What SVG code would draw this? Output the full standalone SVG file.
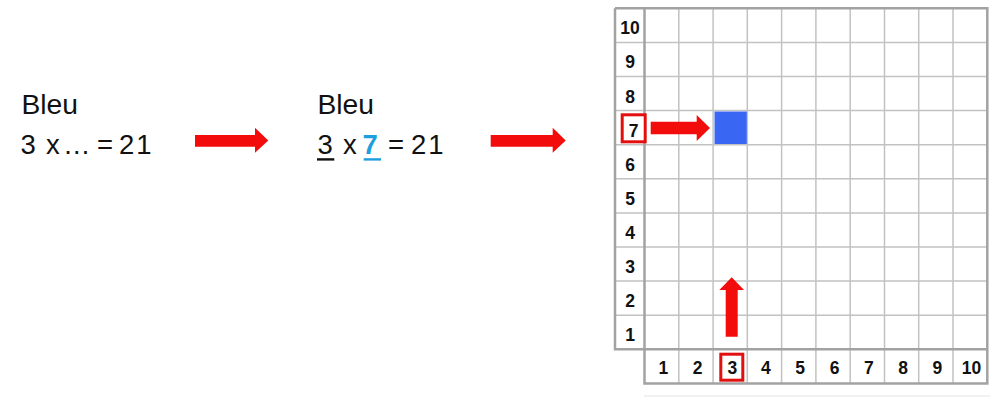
<svg xmlns="http://www.w3.org/2000/svg" width="1000" height="401" viewBox="0 0 1000 401">
<style>
.t{font-family:"Liberation Sans",Arial,sans-serif;font-size:27.5px;fill:#111}
.n{font-family:"Liberation Sans",Arial,sans-serif;font-size:17.5px;font-weight:bold;fill:#111;text-anchor:middle}
.g{stroke:#c2c2c2;stroke-width:1.5;fill:none}
.b{stroke:#a2a2a2;stroke-width:2.5;fill:none}
.arr{fill:#f20c0c}
.box{fill:#fff;stroke:#e30f0f;stroke-width:3}
</style>
<rect width="1000" height="401" fill="#fff"/>
<g id="eq1">
<text class="t" x="21.5" y="114" textLength="56.5" lengthAdjust="spacingAndGlyphs">Bleu</text>
<text class="t" y="154"><tspan x="20.5">3</tspan><tspan x="46">x</tspan><tspan x="63">…</tspan><tspan x="97">=</tspan><tspan x="119" letter-spacing="2">21</tspan></text>
</g>
<g id="eq2">
<text class="t" x="317.5" y="114" textLength="56.5" lengthAdjust="spacingAndGlyphs">Bleu</text>
<text class="t" y="154"><tspan x="317.5">3</tspan><tspan x="343">x</tspan><tspan x="362.5" font-weight="bold" fill="#1c9fdc">7</tspan><tspan x="388">=</tspan><tspan x="411" letter-spacing="2">21</tspan></text>
<rect x="317" y="158.2" width="17.3" height="2.4" fill="#111"/>
<rect x="363.7" y="158.2" width="17.3" height="2.4" fill="#1c9fdc"/>
</g>
<g id="grid">
<rect x="615" y="8.3" width="29.5" height="341" fill="#fff"/>
<path class="g" d="M615 42.4H987.3M615 76.5H987.3M615 110.6H987.3M615 144.7H987.3M615 178.8H987.3M615 212.9H987.3M615 247H987.3M615 281.1H987.3M615 315.2H987.3"/>
<path class="g" d="M678.8 8.3V383.4M713.1 8.3V383.4M747.3 8.3V383.4M781.6 8.3V383.4M815.9 8.3V383.4M850.2 8.3V383.4M884.5 8.3V383.4M918.7 8.3V383.4M953 8.3V383.4"/>
<path class="b" d="M615 8.3H987.3V383.4H644.5V8.3M615 8.3V349.3H987.3"/>
<line x1="644" y1="396" x2="990" y2="396" stroke="#ececec" stroke-width="1.5"/>
</g>
<g id="rowlabels">
<text class="n" x="630" y="34.3">10</text>
<text class="n" x="630" y="68.4">9</text>
<text class="n" x="630" y="102.5">8</text>
<text class="n" x="630" y="170.7">6</text>
<text class="n" x="630" y="204.8">5</text>
<text class="n" x="630" y="238.9">4</text>
<text class="n" x="630" y="273">3</text>
<text class="n" x="630" y="307.1">2</text>
<text class="n" x="630" y="341.2">1</text>
</g>
<g id="row7">
<rect class="box" x="622.2" y="114.8" width="23" height="27"/>
<text class="n" x="633.5" y="136.6">7</text>
</g>
<g id="collabels">
<text class="n" x="663.3" y="374">1</text>
<text class="n" x="697.5" y="374">2</text>
<text class="n" x="765.9" y="374">4</text>
<text class="n" x="800.2" y="374">5</text>
<text class="n" x="834.5" y="374">6</text>
<text class="n" x="868.8" y="374">7</text>
<text class="n" x="903.1" y="374">8</text>
<text class="n" x="937.3" y="374">9</text>
<text class="n" x="971.6" y="374">10</text>
</g>
<g id="col3">
<rect class="box" x="720.8" y="354.2" width="22" height="26"/>
<text class="n" x="732.3" y="374">3</text>
</g>
<g id="cell">
<rect x="714.5" y="111.5" width="32.3" height="32.5" fill="#3a66f4"/>
</g>
<g id="connectors">
<polygon class="arr" points="195,135 255,135 255,127.7 268.3,140.5 255,152.7 255,146.7 195,146.7"/>
<polygon class="arr" points="490.7,135 552.7,135 552.7,127.7 565.7,140.5 552.7,152.7 552.7,146.7 490.7,146.7"/>
<polygon class="arr" points="650.7,121.7 696.7,121.7 696.7,115 710,128 696.7,141 696.7,134.3 650.7,134.3"/>
<polygon class="arr" points="725.7,336.7 725.7,290 719.3,290 731.7,277.3 744,290 737.7,290 737.7,336.7"/>
</g>
</svg>
